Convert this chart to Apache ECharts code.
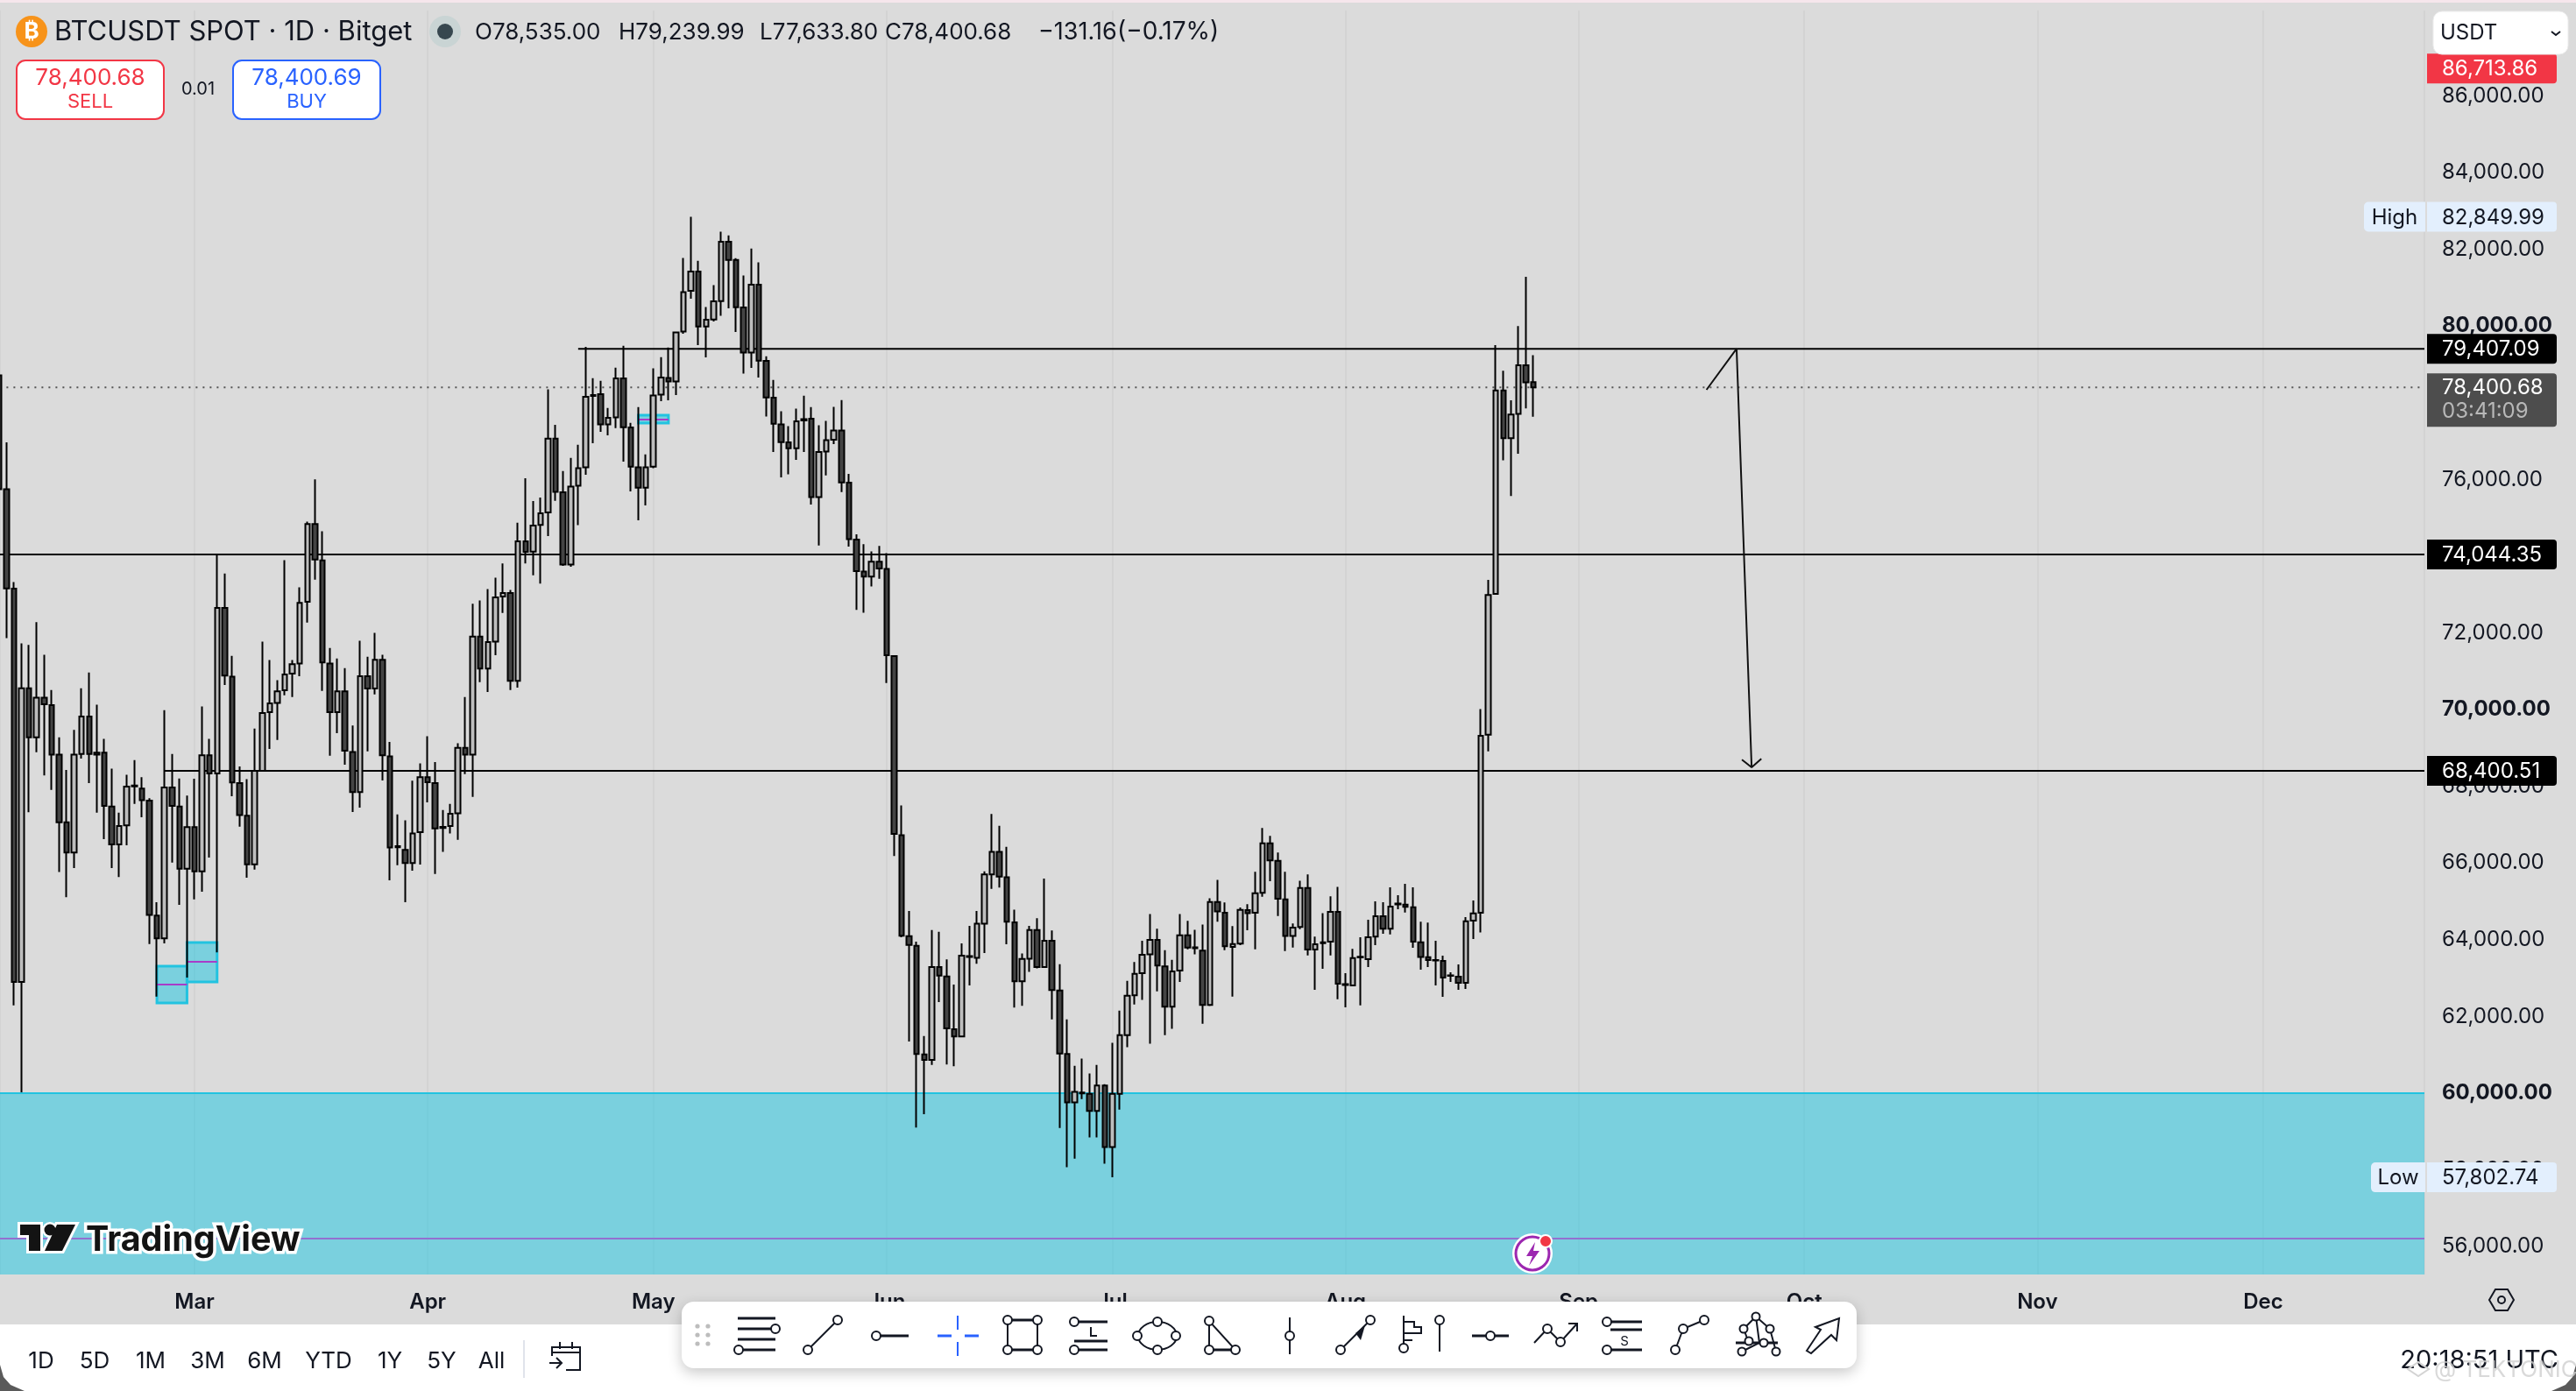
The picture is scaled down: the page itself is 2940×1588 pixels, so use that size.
<!DOCTYPE html>
<html><head><meta charset="utf-8">
<style>html,body{margin:0;padding:0;background:#dbdbdb}#c{width:2940px;height:1588px}</style>
<script src="https://cdn.jsdelivr.net/npm/echarts@6/dist/echarts.min.js"></script>
</head><body><div id="c"></div>
<script>
const firstDay = '2024-02-04';
const opens = [78716,75747,73151,62898,70555,69279,70311,70118,68825,67059,66272,68842,69821,68877,68877,67470,66482,66980,68020,67942,67627,64629,64035,67968,67470,65853,
66937,65783,68807,68335,72653,70860,68082,67234,65966,68405,
69935,70171,70503,70940,71202,72811,74840,73890,71202,69935,
70477,68895,67846,70870,70547,71298,68781,66440,66342,66001,
66805,68239,68082,66940,66963,67295,69000,68825,71901,71071,
71770,72950,73038,70748,74384,74120,74812,75138,77064,75664,
73783,75839,76319,78200,78222,77438,77620,78633,77354,76318,
75785,76334,78214,78648,78557,79859,80917,81419,79988,80171,
80650,82196,81724,80483,79310,81077,79090,78130,77438,76966,
76813,77570,77582,75542,76730,77034,77278,75915,74430,73601,
73468,73856,73667,71393,66723,64094,63839,61010,60866,63284,
63040,61665,61476,63570,63528,64416,65703,66290,65625,64449,
62918,63506,64249,63284,63972,62674,61021,59757,60012,59978,
59535,60200,58592,59978,61509,62552,63129,63617,63994,63306,
62253,63196,64116,63800,63717,62297,64981,64704,63811,63895,
64770,64702,65220,66514,66057,65052,64100,64329,65349,63743,
63930,63948,64725,62840,62806,63555,63491,64078,64610,64283,
64940,64915,64846,63933,63545,63470,63446,63070,63035,62875,
64496,64700,69343,73014,78323,77078,77707,78979,78535];
const highs = [78716,76965,73326,71727,71683,72277,71429,70512,69279,68423,69471,70555,70966,70127,69235,68457,67312,68300,68685,68239,67688,64979,69987,68842,68204,67758,
68195,70083,69235,74044,73545,71403,68519,68187,69506,71770,
71290,70765,73894,71290,73186,74900,76000,74650,71604,71333,
71080,69585,71796,71377,71998,71429,69157,67269,67111,68143,
68597,69305,68632,67382,67540,69122,70328,72758,72845,73143,
73440,73807,73116,74873,76030,75435,75527,78350,77422,76220,
76562,76905,79455,78640,78572,77864,78915,79486,77476,77887,
76653,78899,79189,79440,79836,81777,82850,81701,80498,81069,
82462,82363,81769,81320,82021,81663,79211,78595,77780,77392,
77849,78184,77887,77415,77529,77894,78070,76143,74570,74311,
74122,74266,74078,71400,67500,64749,63950,61487,64249,64205,
63484,62829,63905,64360,64749,65780,67278,66967,66424,64782,
63639,64360,64560,65592,64238,63362,61920,60710,60900,60511,
60733,60234,61310,62153,62929,63417,63972,64671,64283,63728,
63473,64671,64493,64260,64393,65081,65558,64970,64352,64839,
64923,65768,66910,66704,66270,65768,64420,65539,65699,64078,
64694,65128,65379,63126,63758,64062,64519,65000,64976,65364,
65159,65455,65364,64466,64443,63971,63583,63149,63354,64588,
65022,70011,73381,79503,78834,78061,80001,81286,79239.99];
const lows = [75747,71865,62286,60020,67321,68886,68283,67907,65765,65110,65870,68720,68082,67312,66622,65870,65634,66464,67540,67190,63886,62514,63904,66010,64909,63012,
65049,65250,66141,63667,70643,67741,66945,65617,65826,68405,
68973,69209,70372,70328,70870,72269,73387,70485,68798,69384,
68562,67330,67444,68912,70398,68152,65547,65940,64979,65800,
65958,67583,65713,66290,66770,66605,68318,67723,70713,70459,
71420,72522,70512,70573,73807,73501,73282,74524,75442,73745,
73722,74811,76120,76943,77240,77148,77339,76463,75687,74933,
75321,76296,78039,78062,78199,79798,80711,79501,79181,80117,
80270,80460,79843,78762,78907,78656,77643,76714,76052,76136,
76509,76714,75344,74278,76105,76920,75671,74248,72602,72525,
73213,73412,70694,66180,64061,61343,59102,59447,60733,62375,
60744,60700,61476,62807,63373,63650,65325,65359,63883,62230,
62275,63162,63251,63284,61920,59091,58070,58292,59845,58847,
58847,58160,57803,59568,61199,62308,62430,61288,62652,61509,
61676,62896,63750,63617,61809,62270,64471,63728,62517,63857,
64245,63750,65121,65524,64618,63705,63796,64276,63590,62692,
63240,63590,62448,62235,62800,62288,63286,63857,64154,64138,
64793,64709,63788,63217,63286,62806,62509,62898,62692,62715,
64017,64191,68910,73014,76501,75570,76671,77851,77633.80];
const closes = [75747,73159,62898,70555,69279,70311,70136,68825,67059,66272,68825,69821,68842,68825,67487,66482,66963,67994,68000,67636,64646,64035,67968,67487,65853,66937,
65783,68807,68335,72653,70887,68099,67251,65966,68405,69909,
70162,70477,70914,71185,72784,74838,73910,71228,69935,70477,
68930,67846,70870,70547,71298,68807,66403,66410,66001,66770,
68239,68108,66902,66915,67286,69000,68825,71901,71071,71762,
72924,73038,70748,74384,74113,74795,75118,77064,75678,73783,
75816,76296,78153,78180,77438,77605,78633,77362,76334,75785,
76318,78191,78656,78557,79836,80886,81419,79988,80163,80643,
82196,81724,80490,79310,81077,79097,78138,77453,76973,76813,
77514,77540,75542,76714,77027,77278,75923,74446,73610,73468,
73856,73678,71415,66756,64105,63861,61021,60866,63284,63062,
61687,61476,63584,63550,64416,65703,66290,65647,64471,62918,
63495,64249,63284,63972,62685,61032,59757,60034,59990,59535,
60200,58592,59978,61509,62541,63107,63606,63994,63329,62253,
63173,64116,63795,63780,62297,64981,64738,63828,63887,64778,
64694,65212,66514,66065,65067,64100,64314,65349,63743,63880,
63910,64725,62852,62820,63522,63535,64062,64610,64283,64862,
64920,64854,63948,63552,63469,63460,63012,63060,62875,64481,
64687,69317,72987,78323,77078,77694,78979,78533,78400.68];

const yTicks = [56000,58000,60000,62000,64000,66000,68000,70000,72000,74000,76000,78000,80000,82000,84000,86000];
const xMin = '2024-02-04T03:22:00Z', xMax = '2024-12-22T10:34:00Z';
const yMin = 55270, yMax = 88227;

// drawn horizontal levels: [start date, price]
const levelStarts = [xMin, '2024-04-21', '2024-02-26'];
const levelPrices = [74044.35, 79407.09, 68400.51];
const lastPrice = 78400.68;
const lastPriceStart = '2024-02-05T00:00:00Z';

// hand-drawn path and arrow head
const pathDates = ['2024-09-18','2024-09-22','2024-09-24'];
const pathPrices = [78337,79407,68494];
const headDates = ['2024-09-22T17:00:00Z','2024-09-24','2024-09-25T07:00:00Z'];
const headPrices = [68695,68494,68717];

// shaded zones
const zoneStarts = [xMin,'2024-02-25','2024-02-29','2024-04-29'];
const zoneEnds   = [xMax,'2024-02-29','2024-03-04','2024-05-03'];
const zoneTops   = [60000,63309,63926,77675];
const zoneMids   = [56206,62830,63424,77561];
const zoneBottoms= [yMin,62350,62898,77470];

// price scale tags
const tagPrices = [86713.86,82849.99,79407.09,74044.35,68400.51,57802.74];
const tagFills  = ['#f23645','#e3effd','#000000','#000000','#000000','#e3effd'];
const tagInks   = ['#ffffff','#131722','#ffffff','#ffffff','#ffffff','#131722'];
const tagNames  = ['','High','','','','Low'];

const rangeLabels = ['1D','5D','1M','3M','6M','YTD','1Y','5Y','All'];

const F = 'Inter, "Noto Sans", sans-serif';
const INK = '#131722';
const dayMs = 864e5;
const t0 = Date.parse(firstDay);
const candles = opens.map((o,i)=>[t0+i*dayMs,o,closes[i],lows[i],highs[i]]);
const ts = s => Date.parse(s);
const money = v => v.toLocaleString('en-US',{minimumFractionDigits:2,maximumFractionDigits:2});
const lineSeries = (data,style) => ({type:'line',data,z:2,silent:true,animation:false,symbol:'none',showSymbol:false,lineStyle:style,clip:true});

const chart = echarts.init(document.getElementById('c'),null,{renderer:'canvas',width:2940,height:1588,devicePixelRatio:1});
const chartSeries = [
 {type:'custom',z:1,silent:true,animation:false,clip:true,
  encode:{x:[0,1],y:[2,3,4]},
  data:zoneStarts.map((s,i)=>[ts(s),ts(zoneEnds[i]),zoneTops[i],zoneMids[i],zoneBottoms[i],i]),
  renderItem(p,api){
    const tl=api.coord([api.value(0),api.value(2)]), br=api.coord([api.value(1),api.value(4)]), m=api.coord([api.value(0),api.value(3)]);
    const main=api.value(5)===0, cyan='#22c3e0';
    const kids=[{type:'rect',shape:{x:tl[0],y:tl[1],width:br[0]-tl[0],height:br[1]-tl[1]},style:{fill:'rgba(34,198,224,0.525)',stroke:main?null:cyan,lineWidth:main?0:3}},
      {type:'line',shape:{x1:tl[0],y1:m[1],x2:br[0],y2:m[1]},style:{stroke:main?'#9370d0':'#a83cc8',lineWidth:2}}];
    if(main) kids.push({type:'line',shape:{x1:tl[0],y1:tl[1],x2:br[0],y2:tl[1]},style:{stroke:cyan,lineWidth:2}});
    return {type:'group',children:kids};
  }},
 ...levelPrices.map((p,i)=>lineSeries([[ts(levelStarts[i]),p],[ts(xMax),p]],{color:'#000',width:2})),
 lineSeries([[ts(lastPriceStart),lastPrice],[ts(xMax),lastPrice]],{color:'#555',width:2,type:[2,6]}),
 lineSeries(pathDates.map((d,i)=>[ts(d),pathPrices[i]]),{color:'#111',width:2}),
 lineSeries(headDates.map((d,i)=>[ts(d),headPrices[i]]),{color:'#111',width:2}),
 {type:'candlestick',z:3,silent:true,animation:false,barWidth:6,data:candles,encode:{x:0,y:[1,2,3,4]},
  itemStyle:{color:'#bdbdbd',color0:'#444444',borderColor:'#000',borderColor0:'#000',borderWidth:2}}
];
chart.setOption({
 useUTC:true,animation:false,backgroundColor:'#dbdbdb',
 grid:{left:0,top:12,width:2767,height:1443,containLabel:false},
 xAxis:{type:'time',min:ts(xMin),max:ts(xMax),splitNumber:10,
   axisLine:{show:false},axisTick:{show:false},
   splitLine:{show:true,lineStyle:{color:'#d3d3d3',width:2}},
   minorTick:{show:false},
   axisLabel:{formatter:'{MMM}',showMinLabel:false,showMaxLabel:false,margin:32,hideOverlap:false,color:INK,fontFamily:F,fontSize:24,fontWeight:600,verticalAlign:'middle'}},
 yAxis:{type:'value',position:'right',min:yMin,max:yMax,scale:true,
   axisLine:{show:false},axisTick:{show:false},splitLine:{show:false},
   axisLabel:{customValues:yTicks,margin:20,align:'left',color:INK,fontFamily:F,fontSize:24,
     formatter:v=>v%10000===0?`{b|${money(v)}}`:money(v),
     rich:{b:{fontWeight:700,fontFamily:F,fontSize:24,color:INK}}}},
 series:chartSeries
});

// ---- chrome ----
const yOf = v => chart.convertToPixel({yAxisIndex:0},v);
const els=[]; let zc=100;
const add=e=>{e.z=zc++;e.silent=true;els.push(e);return e;};
const T=(x,y,text,size,fill,o={})=>add({type:'text',x,y,style:{text,fill,fontFamily:F,fontSize:size,fontWeight:o.w||400,align:o.a||'left',verticalAlign:'middle',stroke:o.stroke||null,lineWidth:o.lw||0,opacity:o.op==null?1:o.op}});
const R=(x,y,w,h,fill,r=0,o={})=>add({type:'rect',shape:{x,y,width:w,height:h,r},style:{fill,stroke:o.stroke||null,lineWidth:o.lw||0,shadowBlur:o.sb||0,shadowColor:o.sc||'transparent',shadowOffsetY:o.sy||0}});
const L=(x1,y1,x2,y2,w=2,c='#131722')=>add({type:'line',shape:{x1,y1,x2,y2},style:{stroke:c,lineWidth:w}});
const C=(cx,cy,r=5,fill='#fff',stroke='#131722',lw=2)=>add({type:'circle',shape:{cx,cy,r},style:{fill,stroke,lineWidth:lw}});
const P=(pts,fill,stroke,lw=0)=>add({type:'polygon',shape:{points:pts},style:{fill,stroke,lineWidth:lw}});
const PL=(pts,c='#131722',lw=2)=>add({type:'polyline',shape:{points:pts},style:{fill:null,stroke:c,lineWidth:lw}});

// top edge
R(0,0,2940,3,'#f6e6ec');

// header
C(36,36,18,'#f7931a',null,0);
T(36,36,'₿',26,'#fff',{a:'center',w:700});
T(62,37,'BTCUSDT SPOT · 1D · Bitget',31,INK);
C(508,36,18,'#c9d4d4',null,0); C(508,36,9,'#37474f',null,0);
const ohlcX=[542,706,867,1010,1185,1275];
const ohlcSizes=[26,26,26,26,27,28];
['O78,535.00','H79,239.99','L77,633.80','C78,400.68','−131.16','(−0.17%)'].forEach((s,i)=>T(ohlcX[i],37,s,ohlcSizes[i],INK));

// sell / buy
R(19,69,168,67,'#fff',10,{stroke:'#f23645',lw:2});
T(103,89,'78,400.68',26,'#f23645',{a:'center'}); T(103,116,'SELL',22,'#f23645',{a:'center'});
T(226,102,'0.01',20,INK,{a:'center'});
R(266,69,168,67,'#fff',10,{stroke:'#2962ff',lw:2});
T(350,89,'78,400.69',26,'#2962ff',{a:'center'}); T(350,116,'BUY',22,'#2962ff',{a:'center'});

// price tags
tagPrices.forEach((p,i)=>{
  const y=yOf(p);
  if(tagNames[i]){
    const w=tagNames[i]==='High'?70:62;
    R(2768-w,y-17,w,34,tagFills[i],[5,0,0,5]);
    T(2768-w/2,y+1,tagNames[i],24,INK,{a:'center'});
  }
  R(2770,y-17,148,34,tagFills[i],[0,4,4,0]);
  T(2787,y+1,money(p),24,tagInks[i]);
});
const ly=yOf(lastPrice);
R(2770,ly-16,148,61,'#4d4d4d',[0,4,4,0]);
T(2787,ly+1,money(lastPrice),24,'#fff');
T(2787,ly+28,'03:41:09',24,'#b8b8b8');

// unit selector
R(2777,13,154,49,'#fff',10,{stroke:'#ececec',lw:1});
T(2785,38,'USDT',24,INK);
PL([[2912,36],[2917,40],[2922,36]],INK,2);

// bottom strip
R(0,1512,2940,76,'#ffffff');
const rangeX=[47,108,172,237,302,375,445,504,561];
rangeLabels.forEach((s,i)=>T(rangeX[i],1554,s,26,INK,{a:'center'}));
L(598,1530,598,1573,2,'#e0e3eb');
// calendar icon
PL([[630,1548],[630,1538],[662,1538],[662,1564],[646,1564]],INK,2);
L(630,1544,662,1544,2); L(639,1532,639,1540,2); L(653,1532,653,1540,2);
PL([[627,1556],[641,1556]],INK,2); PL([[635,1550],[641,1556],[635,1562]],INK,2);
T(2920,1553,'20:18:51 UTC',29,INK,{a:'right'});
// settings hexagon
P([[2841,1484],[2848,1472],[2862,1472],[2869,1484],[2862,1496],[2848,1496]],'none',INK,2);
C(2855,1484,4,'none',INK,2);
// window corners
P([[0,1558],[4,1572],[12,1581],[28,1588],[0,1588]],'#5a5a5a');
P([[2940,1558],[2936,1572],[2928,1581],[2912,1588],[2940,1588]],'#5a5a5a');
// watermark
T(2778,1564,'@ TEKTONIC 1',26,'#cfcfcf',{op:.8});
P([[2748,1563],[2760,1555],[2772,1563],[2760,1571]],'none','#d4d4d4',2);

// logo
const logo=[[23,1398],[46,1398],[46,1428],[33,1428],[33,1410],[23,1410]];
const slash=[[65,1398],[86,1398],[71,1428],[51,1428]];
P(logo,'#fff','#fff',6); P(slash,'#fff','#fff',6); C(57,1404,7,'#fff','#fff',4);
P(logo,'#131313',null,0); P(slash,'#131313',null,0); C(57,1404,6.5,'#131313',null,0);
T(98,1416,'TradingView',39.5,'#fff',{w:700,stroke:'#fff',lw:7});
T(98,1416,'TradingView',39.5,'#131313',{w:700});

// lightning badge
C(1749,1431,23,'#fff',null,0); C(1749,1431,19,'#fff','#9c27b0',3);
P([[1752,1418],[1742,1434],[1749,1434],[1745,1445],[1757,1428],[1750,1428]],'#9c27b0',null,0);
C(1764,1417,7,'#f23645','#fff',2);

// floating toolbar
R(778,1486,1341,76,'#fff',14,{sb:16,sc:'rgba(0,0,0,.22)',sy:5});
[796,808].forEach(x=>[1514,1524,1534].forEach(y=>C(x,y,2.6,'#bdbdbd',null,0)));
const iC=1525, iT=1507, iB=1541;
// fib
L(842,1505,885,1505,3);L(842,1517,880,1517,3);C(885,1517);L(842,1529,885,1529,3);L(848,1541,885,1541,3);C(843,1541);
// trend
L(922,1541,956,1507,2);C(922,1541);C(956,1507);
// h-ray
L(1000,iC,1037,iC,3);C(1000,iC);
// cross
L(1093,1502,1093,1518,2,'#2962ff');L(1093,1532,1093,1548,2,'#2962ff');L(1070,iC,1086,iC,3,'#2962ff');L(1101,iC,1117,iC,3,'#2962ff');
// rectangle
L(1150,iT,1150,iB,2);L(1184,iT,1184,iB,2);L(1150,iT,1184,iT,3);L(1150,iB,1184,iB,3);[[1150,iT],[1184,iT],[1150,iB],[1184,iB]].forEach(p=>C(p[0],p[1]));
// long lines
L(1226,1509,1264,1509,3);L(1226,1531,1264,1531,3);L(1226,1541,1264,1541,3);C(1226,1509);C(1226,1541);PL([[1245,1515],[1245,1525],[1252,1525]],INK,2);
// ellipse
add({type:'ellipse',shape:{cx:1321,cy:iC,rx:22,ry:16},style:{fill:'none',stroke:INK,lineWidth:2}});[[1321,1509],[1298,iC],[1342,iC],[1321,1541]].forEach(p=>C(p[0],p[1]));
// triangle
P([[1380,1508],[1380,1541],[1410,1541]],'none',INK,2);L(1380,1541,1410,1541,3);[[1380,1508],[1380,1541],[1410,1541]].forEach(p=>C(p[0],p[1]));
// v-line
L(1472,1504,1472,1546,2);C(1472,iC);
// arrow
L(1530,1541,1564,1507,2);P([[1547,1522],[1558,1513],[1553,1530]],INK,null,0);C(1530,1541);C(1564,1507);
// long position
L(1602,1502,1602,1534,2);C(1602,1539);PL([[1602,1509],[1614,1509],[1614,1515],[1622,1515],[1622,1522],[1602,1522],[1602,1530],[1612,1530]],INK,2);L(1643,1512,1643,1543,2);C(1643,1507);
// h-segment
L(1680,iC,1722,iC,3);C(1701,iC);
// zigzag
PL([[1751,1533],[1766,1517],[1781,1532],[1800,1511]],INK,2);PL([[1790,1511],[1800,1511],[1800,1520]],INK,2);C(1766,1517);C(1781,1532);
// S levels
L(1834,1509,1874,1509,3);L(1838,1518,1874,1518,3);L(1834,1541,1874,1541,3);C(1834,1509);C(1834,1541);T(1854,1531,'S',15,INK,{a:'center'});
// curve
PL([[1912,1541],[1921,1517],[1945,1507]],INK,2);C(1912,1541);C(1921,1517);C(1945,1507);
// pattern
L(1981,1533,2029,1533,3);PL([[1988,1543],[2008,1533],[2004,1503],[1990,1517],[1996,1533]],INK,2);PL([[2004,1503],[2020,1517],[2027,1543]],INK,2);[[1988,1543],[1990,1517],[2004,1503],[1996,1531],[2013,1533],[2020,1517],[2027,1543]].forEach(p=>C(p[0],p[1],4.5));
// brush arrow
P([[2062,1542],[2078,1518],[2072,1515],[2099,1505],[2096,1530],[2090,1524],[2067,1545]],'none',INK,2);

chart.setOption({graphic:{elements:els}});
</script></body></html>
